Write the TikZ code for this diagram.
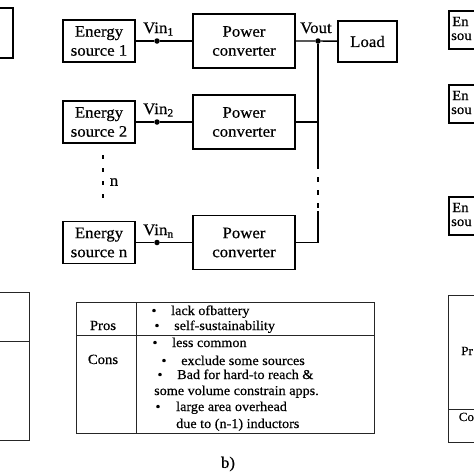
\documentclass[tikz,border=0pt]{standalone}
\usepackage{fontspec}
\setmainfont{Liberation Serif}[FakeStretch=1.05,FakeBold=0.5]
\begin{document}
\begin{tikzpicture}[x=1pt,y=-1pt,
  blk/.style={draw=black,line width=1.8pt,align=center,inner sep=0pt,
    font=\fontsize{16}{19}\selectfont},
  wire/.style={line width=1.4pt},
  jdot/.style={circle,fill=black,inner sep=0pt,minimum size=5.5pt},
  lbl/.style={anchor=base west,inner sep=0pt,font=\fontsize{16}{19}\selectfont},
  tline/.style={line width=0.9pt,draw=black!85},
  ttxt/.style={anchor=base west,inner sep=0pt,font=\fontsize{13.5}{15}\selectfont},
  bul/.style={anchor=base,inner sep=0pt,font=\fontsize{13.5}{15}\selectfont},
  ptxt/.style={anchor=base west,inner sep=0pt,font=\fontsize{14}{15}\selectfont}]
\useasboundingbox (0,0) rectangle (474,474);
% left partial box and table
\draw[line width=1.8pt] (0,8) -- (13,8) -- (13,58) -- (0,58);
\draw[tline] (0,292) -- (29,292) -- (29,440) -- (0,440);
\draw[tline] (0,341) -- (29,341);
% main blocks
\node[blk,minimum width=72pt,minimum height=42pt] (es1) at (99,41) {Energy\\source 1};
\node[blk,minimum width=72pt,minimum height=42pt] (es2) at (99,122) {Energy\\source 2};
\node[blk,minimum width=72pt,minimum height=42pt] (esn) at (99,242.5) {Energy\\source n};
\node[blk,minimum width=102pt,minimum height=54pt] (pc1) at (244,41) {Power\\converter};
\node[blk,minimum width=102pt,minimum height=54pt] (pc2) at (244,122) {Power\\converter};
\node[blk,minimum width=102pt,minimum height=54pt] (pcn) at (244,242.5) {Power\\converter};
\node[blk,minimum width=59pt,minimum height=41pt] (load) at (367.5,41.5) {Load};
% junction dots
\node[jdot] (v1) at (157,41) {};
\node[jdot] (v2) at (157,122) {};
\node[jdot] (vn) at (157,242.5) {};
\node[jdot] (vo) at (318,41) {};
\coordinate (j2) at (318,122);
\coordinate (jd1) at (318,164);
\coordinate (jd2) at (318,211);
\coordinate (jn) at (318,242.5);
\coordinate (nd1) at (103,155);
\coordinate (nd2) at (103,205);
% wires
\draw[wire] (es1) -- (v1) -- (pc1);
\draw[wire] (es2) -- (v2) -- (pc2);
\draw[wire] (esn) -- (vn) -- (pcn);
\draw[wire] (pc1) -- (vo) -- (load);
\draw[wire] (pc2.east) -- (j2);
\draw[wire] (vo) -- (jd1);
\draw[wire,dash pattern=on 5pt off 8pt] (jd1) -- (jd2);
\draw[wire] (jd2) -- (jn) -- (pcn.east);
\draw[line width=2.2pt,dash pattern=on 4pt off 9pt] (nd1) -- (nd2);
% labels
\node[lbl] (l1) at (143,33) {Vin\textsubscript{1}};
\node[lbl] (l2) at (143,114) {Vin\textsubscript{2}};
\node[lbl] (ln) at (143,235) {Vin\textsubscript{n}};
\node[lbl] (lo) at (300,33) {Vout};
\node[anchor=center,inner sep=0pt,font=\fontsize{16}{19}\selectfont] (nn) at (114,182) {n};
% table
\draw[tline] (76,302) rectangle (374,433);
\draw[tline] (136,302) -- (136,433);
\draw[tline] (76,335) -- (374,335);
\node[anchor=base,inner sep=0pt,font=\fontsize{14}{15}\selectfont] (pros) at (103,330) {Pros};
\node[anchor=base,inner sep=0pt,font=\fontsize{14}{15}\selectfont] (cons) at (103,364) {Cons};
\node[bul] (b1) at (154,315) {\textbullet};
\node[ttxt] (t1) at (171,315) {lack ofbattery};
\node[bul] (b2) at (157,330) {\textbullet};
\node[ttxt] (t2) at (174,330) {self-sustainability};
\node[bul] (b3) at (155,347) {\textbullet};
\node[ttxt] (t3) at (172,347) {less common};
\node[bul] (b4) at (164,365) {\textbullet};
\node[ttxt] (t4) at (181,365) {exclude some sources};
\node[bul] (b5) at (160,379) {\textbullet};
\node[ttxt] (t5) at (177,379) {Bad for hard-to reach \&};
\node[ttxt] (t6) at (154,395) {some volume constrain apps.};
\node[bul] (b7) at (158,411) {\textbullet};
\node[ttxt] (t7) at (176,411) {large area overhead};
\node[ttxt] (t8) at (176,428) {due to (n-1) inductors};
\node[anchor=center,inner sep=0pt,font=\fontsize{16}{19}\selectfont] (cap) at (228,464) {b)};
% right partial boxes
\draw[line width=1.8pt] (474,11) -- (449,11) -- (449,49) -- (474,49);
\draw[line width=1.8pt] (474,85) -- (449,85) -- (449,123) -- (474,123);
\draw[line width=1.8pt] (474,197) -- (449,197) -- (449,235) -- (474,235);
\node[ptxt] (r1a) at (452,26) {En};
\node[ptxt] (r1b) at (451,40) {sou};
\node[ptxt] (r2a) at (452,100) {En};
\node[ptxt] (r2b) at (451,114) {sou};
\node[ptxt] (r3a) at (452,212) {En};
\node[ptxt] (r3b) at (451,226) {sou};
% right partial table
\draw[tline] (474,295) -- (448,295) -- (448,442) -- (474,442);
\draw[tline] (448,409) -- (474,409);
\node[ptxt,font=\fontsize{12.5}{15}\selectfont] (rp) at (461,355) {Pr};
\node[ptxt,font=\fontsize{12.5}{15}\selectfont] (rc) at (458.5,421) {Co};
\end{tikzpicture}
\end{document}
